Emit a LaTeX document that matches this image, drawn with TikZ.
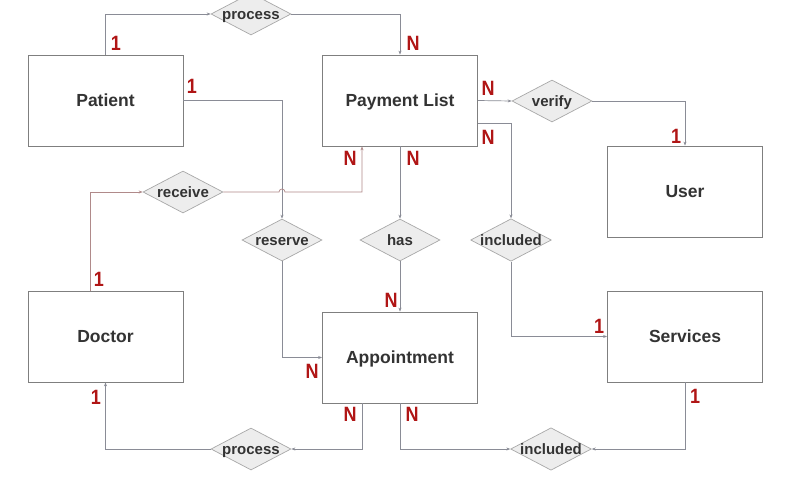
\documentclass[tikz,border=0pt]{standalone}
\usepackage{fontspec}
\setmainfont{Liberation Sans}
\usetikzlibrary{shapes.geometric,arrows.meta,calc}
\definecolor{lineg}{HTML}{8A8C96}
\definecolor{liner}{HTML}{B08A8A}
\definecolor{boxg}{HTML}{7F7F7F}
\definecolor{dfill}{HTML}{EDEDED}
\definecolor{dline}{HTML}{A8A8A8}
\definecolor{card}{HTML}{B01515}
\definecolor{txt}{HTML}{333333}
\begin{document}
\begin{tikzpicture}[x=1pt,y=-1pt,
  entity/.style={draw=boxg,fill=white,line width=0.8pt,minimum width=155pt,minimum height=91pt,inner sep=0pt,
    font=\fontsize{17.5}{20}\selectfont\bfseries,text=txt,text height=12.5pt,text depth=0pt},
  rel/.style={diamond,draw=dline,fill=dfill,line width=0.7pt,minimum width=80pt,minimum height=42pt,aspect=1.9,inner sep=0pt,
    font=\fontsize{15}{17}\selectfont\bfseries,text=txt,text height=10pt,text depth=0pt},
  conn/.style={draw=lineg,line width=0.7pt,-{Stealth[length=4pt,width=3pt]}},
  connr/.style={draw=liner,line width=0.7pt,-{Stealth[length=4pt,width=3pt]}},
  cardl/.style={font=\fontsize{18}{20}\selectfont\bfseries,text=card,inner sep=0pt}
]
\useasboundingbox[fill=white] (0,0) rectangle (800,480);

% entities
\node[entity] (Patient) at (105.5,100.5) {Patient};
\node[entity] (Pay) at (400,100.5) {Payment List};
\node[entity] (User) at (685,191.5) {User};
\node[entity] (Doctor) at (105.5,336.5) {Doctor};
\node[entity] (Appt) at (400,357.5) {Appointment};
\node[entity] (Services) at (685,336.5) {Services};

% relationships
\node[rel] (proc1) at (251,14) {process};
\node[rel] (receive) at (183,192) {receive};
\node[rel] (reserve) at (282,240) {reserve};
\node[rel] (has) at (400,240) {has};
\node[rel] (incl1) at (511,240) {included};
\node[rel] (verify) at (552,101) {verify};
\node[rel] (proc2) at (251,449) {process};
\node[rel] (incl2) at (551,449) {included};

% connectors
\draw[conn] (Patient.north) |- (proc1.west);
\draw[conn] (proc1.east) -| (Pay.north);
\draw[conn] (Patient.east) -| (reserve.north);
\draw[connr] ([xshift=-15.5pt]Doctor.north) |- (receive.west);
\coordinate (hop) at (receive.east -| reserve.north);
\coordinate (pr) at ([xshift=-38pt]Pay.south);
\draw[connr] (receive.east) -- ([xshift=-3pt]hop) arc[start angle=180,end angle=0,radius=3pt] -| (pr);
\draw[conn] (reserve.south) |- (Appt.west);
\draw[conn] (Pay.south) -- (has.north);
\draw[conn] (has.south) -- (Appt.north);
\draw[conn] (Pay.east) -- (verify.west);
\draw[conn] (verify.east) -| (User.north);
\draw[conn] ([yshift=-22.5pt]Pay.east) -| (incl1.north);
\draw[conn] (incl1.south) |- (Services.west);
\draw[conn] ([xshift=-38pt]Appt.south) |- (proc2.east);
\draw[conn] (proc2.west) -| (Doctor.south);
\draw[conn] (Appt.south) |- (incl2.west);
\draw[conn] (Services.south) |- (incl2.east);

% cardinalities
\node[cardl] (c1) at (116,43) {\scalebox{1}[1.15]{1}};
\node[cardl] (c2) at (413,43) {\scalebox{1}[1.15]{N}};
\node[cardl] (c3) at (192,86) {\scalebox{1}[1.15]{1}};
\node[cardl] (c4) at (99,279) {\scalebox{1}[1.15]{1}};
\node[cardl] (c5) at (350,158) {\scalebox{1}[1.15]{N}};
\node[cardl] (c6) at (413,158) {\scalebox{1}[1.15]{N}};
\node[cardl] (c7) at (488,88) {\scalebox{1}[1.15]{N}};
\node[cardl] (c8) at (488,137) {\scalebox{1}[1.15]{N}};
\node[cardl] (c9) at (676,136) {\scalebox{1}[1.15]{1}};
\node[cardl] (c10) at (391,300) {\scalebox{1}[1.15]{N}};
\node[cardl] (c11) at (312,371) {\scalebox{1}[1.15]{N}};
\node[cardl] (c12) at (599,326) {\scalebox{1}[1.15]{1}};
\node[cardl] (c13) at (96,397) {\scalebox{1}[1.15]{1}};
\node[cardl] (c14) at (350,414) {\scalebox{1}[1.15]{N}};
\node[cardl] (c15) at (412,414) {\scalebox{1}[1.15]{N}};
\node[cardl] (c16) at (695,396) {\scalebox{1}[1.15]{1}};
\end{tikzpicture}
\end{document}
